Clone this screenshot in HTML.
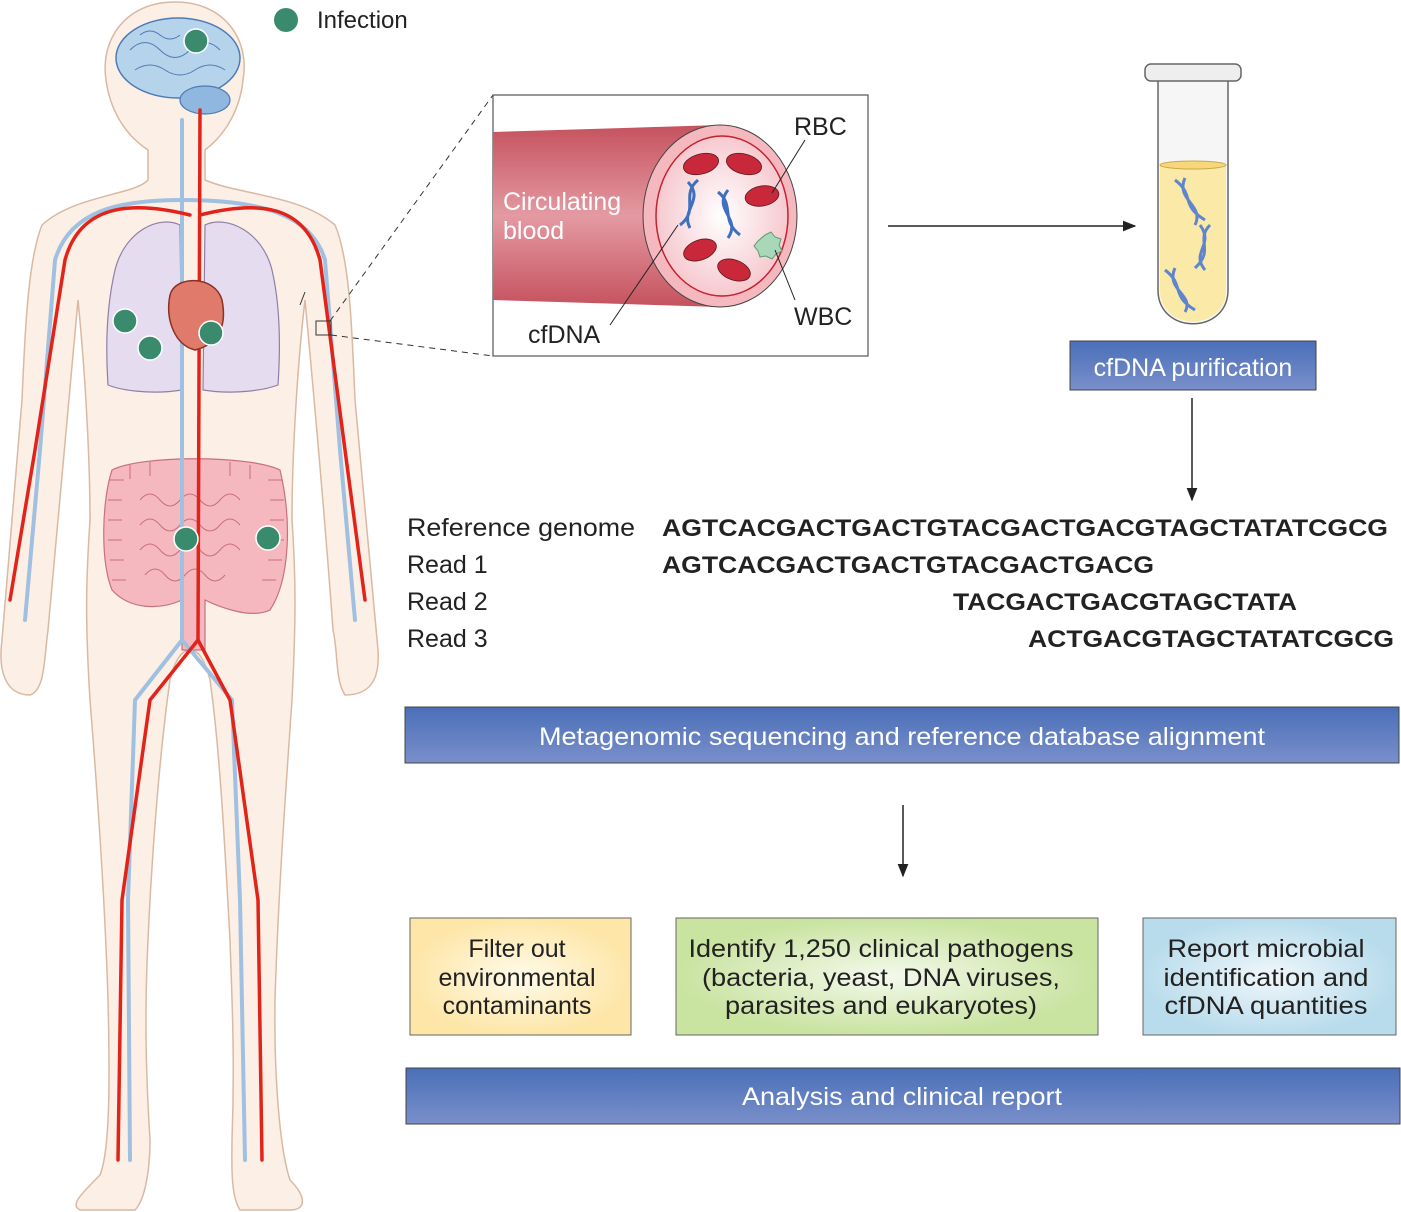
<!DOCTYPE html>
<html><head><meta charset="utf-8"><style>
html,body{margin:0;padding:0;background:#fff;}
svg{display:block;font-family:"Liberation Sans",Arial,sans-serif;}
</style></head><body>
<svg width="1401" height="1212" viewBox="0 0 1401 1212" xmlns="http://www.w3.org/2000/svg">
<defs>
<linearGradient id="blue" x1="0" y1="0" x2="0" y2="1"><stop offset="0" stop-color="#4a6fb8"/><stop offset="1" stop-color="#7a8fca"/></linearGradient>
<radialGradient id="yel"><stop offset="0" stop-color="#fffbea"/><stop offset="1" stop-color="#fde6a8"/></radialGradient>
<radialGradient id="grn"><stop offset="0" stop-color="#f4f9ec"/><stop offset="1" stop-color="#c9e3a0"/></radialGradient>
<radialGradient id="lb"><stop offset="0" stop-color="#f0f7fb"/><stop offset="1" stop-color="#b9dcec"/></radialGradient>
<linearGradient id="vess" x1="0" y1="0" x2="0" y2="1"><stop offset="0" stop-color="#c5525e"/><stop offset="0.5" stop-color="#e49aa3"/><stop offset="1" stop-color="#c5525e"/></linearGradient>
<radialGradient id="lumen"><stop offset="0" stop-color="#fff"/><stop offset="1" stop-color="#f6c9cf"/></radialGradient>
<marker id="ah" viewBox="0 0 10 10" refX="9" refY="5" markerWidth="9" markerHeight="9" orient="auto"><path d="M0,1 L10,5 L0,9 Z" fill="#222"/></marker>
</defs>

<path d="M175,2 C225,2 250,40 243,80 C240,110 225,135 205,150 L205,180 C240,195 300,195 335,225 C350,260 352,330 355,400 C362,480 370,560 378,650 C380,680 370,695 345,695 C335,680 338,650 333,630 C328,560 318,440 305,300 C298,360 292,450 292,520 C296,580 296,620 292,700 C285,800 278,900 275,1000 C274,1080 280,1150 290,1180 C305,1195 308,1210 290,1210 L240,1210 C230,1195 232,1160 232,1140 C235,1060 232,1000 230,940 C225,850 220,750 210,680 C205,660 198,650 190,650 C182,650 175,660 170,680 C160,750 152,850 148,940 C145,1000 145,1060 150,1140 C150,1170 145,1200 135,1210 L80,1210 C70,1205 80,1195 100,1175 C110,1150 110,1080 108,1000 C105,900 98,800 90,700 C85,620 86,580 90,520 C90,450 84,360 78,300 C65,440 55,560 48,630 C44,660 45,690 30,695 C5,695 -2,670 2,640 C8,560 15,480 22,400 C25,330 28,260 42,225 C75,195 135,195 148,180 L148,150 C125,135 110,110 106,80 C100,40 125,2 175,2 Z" fill="#fcefe5" stroke="#d9b9a3" stroke-width="1.5"/>
<path d="M115,270 C125,230 160,215 180,225 L182,390 C150,395 120,390 108,385 C105,340 108,300 115,270 Z" fill="#e6dcef" stroke="#8f7fa8" stroke-width="1.2"/>
<path d="M272,270 C262,230 225,215 205,225 L203,390 C235,395 265,390 278,385 C281,340 279,300 272,270 Z" fill="#e6dcef" stroke="#8f7fa8" stroke-width="1.2"/>
<path d="M112,470 C140,455 250,455 280,470 C292,520 290,580 270,610 C250,620 215,605 205,600 L205,650 L182,650 L182,600 C160,610 130,610 112,590 C100,560 102,500 112,470 Z" fill="#f5b8bf" stroke="#c9707b" stroke-width="1.2"/>
<path d="M140,500 q10,-12 20,0 t20,0 t20,0 t20,0 t20,0 M140,525 q10,-12 20,0 t20,0 t20,0 t20,0 t20,0 M140,550 q10,-12 20,0 t20,0 t20,0 t20,0 t20,0 M145,575 q10,-12 20,0 t20,0 t20,0 t20,0" fill="none" stroke="#c9707b" stroke-width="1"/>
<g fill="none" stroke="#c9707b" stroke-width="1">
<path d="M110,480 h14 M108,500 h14 M108,520 h14 M108,540 h14 M110,560 h14 M112,580 h14 M268,480 h14 M270,500 h14 M270,520 h14 M270,540 h14 M268,560 h14 M262,580 h14 M130,465 v14 M150,462 v14 M230,462 v14 M250,465 v14"/>
</g>
<ellipse cx="178" cy="58" rx="62" ry="40" fill="#b6d3ec" stroke="#4d7cb3" stroke-width="1.5"/>
<ellipse cx="205" cy="100" rx="25" ry="14" fill="#8fb7e0" stroke="#4d7cb3" stroke-width="1.2"/>
<path d="M130,50 q15,-15 30,0 t30,0 t30,0 M135,70 q15,-10 30,0 t30,0 t30,0 M140,35 q10,-8 20,0 t20,0" fill="none" stroke="#4d7cb3" stroke-width="1"/>
<g fill="none" stroke="#9fc0e0" stroke-width="4" stroke-linecap="round">
<path d="M182,120 L182,640 L135,700 L128,900 L130,1160"/>
<path d="M182,640 L232,700 L240,900 L245,1160"/>
<path d="M182,200 C120,200 70,210 55,260 L40,450 L25,620"/>
<path d="M182,200 C250,200 310,210 325,260 L340,450 L355,620"/>
</g>
<g fill="none" stroke="#e2231a" stroke-width="3.5" stroke-linecap="round">
<path d="M200,110 L198,640 L150,700 L122,900 L118,1160"/>
<path d="M198,640 L230,700 L258,900 L262,1160"/>
<path d="M190,215 C130,200 80,205 65,260 L35,450 L10,600"/>
<path d="M200,215 C260,200 305,205 320,260 L345,450 L365,600"/>
</g>
<path d="M170,295 C175,275 215,275 222,300 C228,330 215,345 195,350 C175,345 165,320 170,295 Z" fill="#e07a6a" stroke="#8a3025" stroke-width="1.5"/>
<g fill="#3a8a6e" stroke="#fff" stroke-width="1.5">
<circle cx="196" cy="41" r="12"/><circle cx="125" cy="321" r="12"/><circle cx="150" cy="348" r="12"/><circle cx="211" cy="333" r="12"/><circle cx="186" cy="539" r="12"/><circle cx="268" cy="538" r="12"/>
<circle cx="286" cy="20" r="12" stroke="none"/>
</g>
<text x="317" y="28" font-size="24" fill="#222">Infection</text>

<rect x="316" y="321" width="15" height="14" fill="none" stroke="#333" stroke-width="1"/>
<line x1="330" y1="321" x2="493" y2="95" stroke="#333" stroke-dasharray="6,5"/>
<line x1="331" y1="335" x2="493" y2="356" stroke="#333" stroke-dasharray="6,5"/>
<line x1="300" y1="305" x2="305" y2="292" stroke="#333"/>

<rect x="493" y="95" width="375" height="261" fill="#fff" stroke="#555" stroke-width="1.2"/>
<path d="M493,132 L720,125 L720,307 L493,300 Z" fill="url(#vess)"/>
<ellipse cx="720" cy="216" rx="77" ry="91" fill="#f5b8bf" stroke="#444" stroke-width="1"/>
<ellipse cx="722" cy="216" rx="66" ry="80" fill="url(#lumen)" stroke="#c8202e" stroke-width="1.5"/>
<g fill="#c8283a" stroke="#5a1a1a" stroke-width="0.8">
<ellipse cx="701" cy="164" rx="18" ry="10" transform="rotate(-15 701 164)"/>
<ellipse cx="744" cy="164" rx="18" ry="10" transform="rotate(15 744 164)"/>
<ellipse cx="762" cy="196" rx="17" ry="10" transform="rotate(-10 762 196)"/>
<ellipse cx="700" cy="250" rx="17" ry="10" transform="rotate(-20 700 250)"/>
<ellipse cx="734" cy="270" rx="17" ry="10" transform="rotate(20 734 270)"/>
</g>
<path d="M765,235 l6,-3 4,5 6,2 -2,6 3,6 -6,3 -4,5 -6,-3 -6,1 -2,-6 -4,-5 4,-5 z" fill="#a8d8b8" stroke="#5f9a74"/>
<g fill="none" stroke="#3f6fbf" stroke-width="3">
<path d="M698,180 C680,195 700,210 680,225 M688,182 C705,200 680,210 690,228"/>
<path d="M718,192 C735,205 720,220 740,235 M728,190 C712,210 742,218 728,238"/>
</g>
<line x1="610" y1="325" x2="678" y2="225" stroke="#222"/>
<line x1="805" y1="140" x2="772" y2="193" stroke="#222"/>
<line x1="795" y1="300" x2="775" y2="250" stroke="#222"/>
<text x="503" y="210" font-size="25" fill="#fff">Circulating</text>
<text x="503" y="239" font-size="25" fill="#fff">blood</text>
<text x="794" y="135" font-size="25" fill="#222">RBC</text>
<text x="794" y="325" font-size="25" fill="#222">WBC</text>
<text x="528" y="343" font-size="25" fill="#222">cfDNA</text>

<line x1="888" y1="226" x2="1135" y2="226" stroke="#222" stroke-width="1.5" marker-end="url(#ah)"/>

<path d="M1158,80 L1158,290 C1158,335 1228,335 1228,290 L1228,80 Z" fill="#f6f6f6" stroke="#666" stroke-width="1.5"/>
<path d="M1160,165 L1160,290 C1160,332 1226,332 1226,290 L1226,165 Z" fill="#fbe9a8"/>
<ellipse cx="1193" cy="165" rx="33" ry="4" fill="#f7d77a" stroke="#c9a94a"/>
<rect x="1145" y="64" width="96" height="17" rx="6" fill="#eee" stroke="#666" stroke-width="1.5"/>
<g fill="none" stroke="#5f85cf" stroke-width="3">
<path d="M1175,180 C1195,195 1180,205 1205,220 M1185,178 C1175,200 1205,205 1195,225"/>
<path d="M1210,225 C1195,240 1215,250 1195,268 M1200,225 C1215,245 1190,252 1205,270"/>
<path d="M1165,270 C1185,285 1170,295 1195,310 M1175,268 C1165,290 1195,295 1185,312"/>
</g>

<rect x="1070" y="341" width="246" height="49" fill="url(#blue)" stroke="#444"/>
<text x="1193" y="376" font-size="25" fill="#fff" text-anchor="middle">cfDNA purification</text>
<line x1="1192" y1="398" x2="1192" y2="500" stroke="#222" stroke-width="1.5" marker-end="url(#ah)"/>

<g font-size="25" fill="#222">
<text x="407" y="536" textLength="228" lengthAdjust="spacingAndGlyphs">Reference genome</text>
<text x="407" y="573">Read 1</text>
<text x="407" y="610">Read 2</text>
<text x="407" y="647">Read 3</text>
</g>
<g font-size="24" font-weight="bold" fill="#222">
<text x="662" y="536" textLength="726" lengthAdjust="spacingAndGlyphs">AGTCACGACTGACTGTACGACTGACGTAGCTATATCGCG</text>
<text x="662" y="573" textLength="492" lengthAdjust="spacingAndGlyphs">AGTCACGACTGACTGTACGACTGACG</text>
<text x="953" y="610" textLength="344" lengthAdjust="spacingAndGlyphs">TACGACTGACGTAGCTATA</text>
<text x="1028" y="647" textLength="366" lengthAdjust="spacingAndGlyphs">ACTGACGTAGCTATATCGCG</text>
</g>

<rect x="405" y="707" width="994" height="56" fill="url(#blue)" stroke="#444"/>
<text x="902" y="745" font-size="25" fill="#fff" text-anchor="middle" textLength="726" lengthAdjust="spacingAndGlyphs">Metagenomic sequencing and reference database alignment</text>
<line x1="903" y1="805" x2="903" y2="876" stroke="#222" stroke-width="1.5" marker-end="url(#ah)"/>

<rect x="410" y="918" width="221" height="117" fill="url(#yel)" stroke="#666"/>
<g font-size="25" fill="#222" text-anchor="middle">
<text x="517" y="957">Filter out</text>
<text x="517" y="986">environmental</text>
<text x="517" y="1014">contaminants</text>
</g>
<rect x="676" y="918" width="422" height="117" fill="url(#grn)" stroke="#666"/>
<g font-size="25" fill="#222" text-anchor="middle">
<text x="881" y="957" textLength="385" lengthAdjust="spacingAndGlyphs">Identify 1,250 clinical pathogens</text>
<text x="881" y="986" textLength="358" lengthAdjust="spacingAndGlyphs">(bacteria, yeast, DNA viruses,</text>
<text x="881" y="1014" textLength="312" lengthAdjust="spacingAndGlyphs">parasites and eukaryotes)</text>
</g>
<rect x="1143" y="918" width="253" height="117" fill="url(#lb)" stroke="#666"/>
<g font-size="25" fill="#222" text-anchor="middle">
<text x="1266" y="957" textLength="197" lengthAdjust="spacingAndGlyphs">Report microbial</text>
<text x="1266" y="986" textLength="205" lengthAdjust="spacingAndGlyphs">identification and</text>
<text x="1266" y="1014" textLength="203" lengthAdjust="spacingAndGlyphs">cfDNA quantities</text>
</g>

<rect x="406" y="1068" width="994" height="56" fill="url(#blue)" stroke="#444"/>
<text x="902" y="1105" font-size="25" fill="#fff" text-anchor="middle" textLength="320" lengthAdjust="spacingAndGlyphs">Analysis and clinical report</text>
</svg>
</body></html>
